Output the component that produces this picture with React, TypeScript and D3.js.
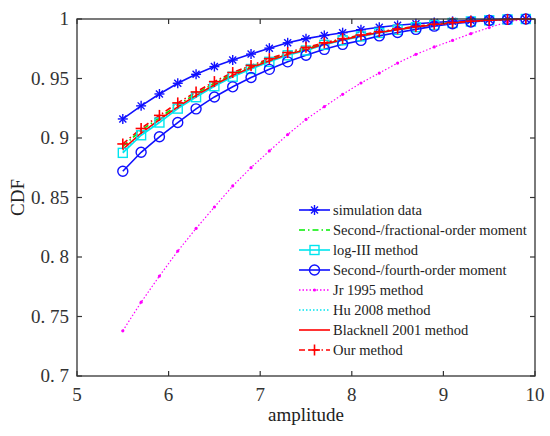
import React, { useEffect, useRef } from "react";
import * as d3 from "d3";

// amplitude values (5.5 .. 9.9 step 0.2)
const amplitude = [5.5, 5.7, 5.9, 6.1, 6.3, 6.5, 6.7, 6.9, 7.1, 7.3, 7.5, 7.7, 7.9, 8.1, 8.3, 8.5, 8.7, 8.9, 9.1, 9.3, 9.5, 9.7, 9.9];

const simulation = [0.916, 0.927, 0.937, 0.946, 0.9535, 0.96, 0.9655, 0.9705, 0.9755, 0.98, 0.9835, 0.9862, 0.9885, 0.991, 0.993, 0.9947, 0.996, 0.997, 0.998, 0.9988, 0.9995, 0.9999, 1.0];
const secondFractional = [0.893, 0.9064, 0.917, 0.9278, 0.9372, 0.9461, 0.9539, 0.9601, 0.9659, 0.9711, 0.9749, 0.9795, 0.9831, 0.9863, 0.989, 0.9915, 0.9936, 0.9955, 0.9969, 0.9981, 0.999, 0.9996, 1.0];
const logIII = [0.8875, 0.9023, 0.913, 0.9247, 0.9343, 0.9435, 0.9515, 0.958, 0.964, 0.9695, 0.9735, 0.9783, 0.9821, 0.9854, 0.9883, 0.9909, 0.9931, 0.995, 0.9966, 0.9979, 0.9989, 0.9996, 1.0];
const secondFourth = [0.872, 0.888, 0.901, 0.913, 0.9245, 0.9345, 0.943, 0.9508, 0.9577, 0.964, 0.9695, 0.9745, 0.9787, 0.982, 0.9858, 0.9886, 0.9913, 0.994, 0.996, 0.9975, 0.9988, 0.9997, 1.0];
const jr1995 = [0.738, 0.762, 0.784, 0.805, 0.824, 0.842, 0.8597, 0.8751, 0.8891, 0.9029, 0.9156, 0.9263, 0.9367, 0.9462, 0.9546, 0.963, 0.9703, 0.9765, 0.982, 0.9877, 0.9928, 0.9975, 1.0];
const hu2008 = [0.8885, 0.903, 0.914, 0.9253, 0.935, 0.944, 0.952, 0.9585, 0.9645, 0.9699, 0.9738, 0.9786, 0.9823, 0.9856, 0.9884, 0.991, 0.9932, 0.9951, 0.9966, 0.998, 0.9989, 0.9996, 1.0];
const blacknell2001 = [0.8905, 0.9042, 0.9155, 0.9262, 0.9358, 0.9448, 0.9527, 0.9591, 0.965, 0.9703, 0.9742, 0.9789, 0.9826, 0.9858, 0.9886, 0.9911, 0.9933, 0.9952, 0.9967, 0.998, 0.9989, 0.9996, 1.0];
const ourMethod = [0.895, 0.908, 0.919, 0.9295, 0.9387, 0.9474, 0.955, 0.961, 0.9667, 0.9718, 0.9762, 0.98, 0.9835, 0.9866, 0.9893, 0.9917, 0.9938, 0.9956, 0.997, 0.9982, 0.999, 0.9996, 1.0];

const xTicks = [5, 6, 7, 8, 9, 10];
const yTicks = [0.7, 0.75, 0.8, 0.85, 0.9, 0.95, 1];

const series = [
  { name: "simulation data", values: simulation, color: "#1010ff", dash: null, marker: "star" },
  { name: "Second-/fractional-order moment", values: secondFractional, color: "#00ee00", dash: "6,3,1.5,3", marker: null },
  { name: "log-III method", values: logIII, color: "#00e5ee", dash: null, marker: "square" },
  { name: "Second-/fourth-order moment", values: secondFourth, color: "#1010ff", dash: null, marker: "circle" },
  { name: "Jr 1995 method", values: jr1995, color: "#ff00ff", dash: "1.5,2", marker: "dot" },
  { name: "Hu 2008 method", values: hu2008, color: "#00e5ee", dash: "1.5,2", marker: null },
  { name: "Blacknell 2001 method", values: blacknell2001, color: "#ff0000", dash: null, marker: null },
  { name: "Our method", values: ourMethod, color: "#ff0000", dash: "6,3,1.5,3", marker: "plus" },
];

const width = 550;
const height = 436;
const margin = { left: 77, right: 15, top: 19, bottom: 60 };

const fmtY = (v) => (v === 1 ? "1" : "0. " + String(Math.round(v * 100) / 100).slice(2));

function drawMarker(g, type, x, y, color) {
  if (type === "star") {
    const r = 5;
    const segs = [[-r, 0, r, 0], [0, -r, 0, r], [-r * 0.7, -r * 0.7, r * 0.7, r * 0.7], [-r * 0.7, r * 0.7, r * 0.7, -r * 0.7]];
    segs.forEach((s) => {
      g.append("line").attr("x1", x + s[0]).attr("y1", y + s[1]).attr("x2", x + s[2]).attr("y2", y + s[3])
        .attr("stroke", color).attr("stroke-width", 1.4);
    });
  } else if (type === "plus") {
    const r = 5.5;
    g.append("line").attr("x1", x - r).attr("y1", y).attr("x2", x + r).attr("y2", y).attr("stroke", color).attr("stroke-width", 1.6);
    g.append("line").attr("x1", x).attr("y1", y - r).attr("x2", x).attr("y2", y + r).attr("stroke", color).attr("stroke-width", 1.6);
  } else if (type === "circle") {
    g.append("circle").attr("cx", x).attr("cy", y).attr("r", 5).attr("fill", "none").attr("stroke", color).attr("stroke-width", 1.4);
  } else if (type === "square") {
    g.append("rect").attr("x", x - 4.5).attr("y", y - 4.5).attr("width", 9).attr("height", 9)
      .attr("fill", "none").attr("stroke", color).attr("stroke-width", 1.4);
  } else if (type === "dot") {
    g.append("circle").attr("cx", x).attr("cy", y).attr("r", 1.6).attr("fill", color);
  }
}

const App = () => {
  const svgRef = useRef();

  useEffect(() => {
    const svg = d3.select(svgRef.current);
    svg.selectAll("*").remove();

    const x = d3.scaleLinear().domain([5, 10]).range([margin.left, width - margin.right]);
    const y = d3.scaleLinear().domain([0.7, 1]).range([height - margin.bottom, margin.top]);
    const x0 = margin.left, x1 = width - margin.right, y0 = height - margin.bottom, y1 = margin.top;

    svg.append("rect").attr("width", width).attr("height", height).attr("fill", "#fff");

    const font = "Liberation Serif";
    const axisColor = "#333";

    // plot lines
    const plot = svg.append("g");
    series.forEach((s) => {
      const line = d3.line().x((d, i) => x(amplitude[i])).y((d) => y(d));
      plot.append("path")
        .datum(s.values)
        .attr("d", line)
        .attr("fill", "none")
        .attr("stroke", s.color)
        .attr("stroke-width", s.dash && s.marker === "dot" ? 1.2 : 1.6)
        .attr("stroke-dasharray", s.dash);
    });
    // markers on top
    series.forEach((s) => {
      if (!s.marker) return;
      s.values.forEach((v, i) => drawMarker(plot, s.marker, x(amplitude[i]), y(v), s.color));
    });

    // box + ticks
    const ax = svg.append("g").style("font-family", font);
    ax.append("rect").attr("x", x0).attr("y", y1).attr("width", x1 - x0).attr("height", y0 - y1)
      .attr("fill", "none").attr("stroke", axisColor).attr("stroke-width", 1.3);
    xTicks.forEach((t) => {
      ax.append("line").attr("x1", x(t)).attr("x2", x(t)).attr("y1", y0).attr("y2", y0 - 5).attr("stroke", axisColor).attr("stroke-width", 1.2);
      ax.append("line").attr("x1", x(t)).attr("x2", x(t)).attr("y1", y1).attr("y2", y1 + 5).attr("stroke", axisColor).attr("stroke-width", 1.2);
      ax.append("text").attr("x", x(t)).attr("y", y0 + 25).attr("text-anchor", "middle")
        .attr("font-size", 19).attr("fill", "#333").text(String(t));
    });
    yTicks.forEach((t) => {
      ax.append("line").attr("x1", x0).attr("x2", x0 + 5).attr("y1", y(t)).attr("y2", y(t)).attr("stroke", axisColor).attr("stroke-width", 1.2);
      ax.append("line").attr("x1", x1).attr("x2", x1 - 5).attr("y1", y(t)).attr("y2", y(t)).attr("stroke", axisColor).attr("stroke-width", 1.2);
      ax.append("text").attr("x", x0 - 8).attr("y", y(t) + 6).attr("text-anchor", "end")
        .attr("font-size", 19).attr("fill", "#333").text(fmtY(t));
    });

    ax.append("text").attr("x", (x0 + x1) / 2).attr("y", y0 + 45).attr("text-anchor", "middle")
      .attr("font-size", 19).attr("fill", "#222").text("amplitude");
    ax.append("text").attr("transform", `translate(24,${(y0 + y1) / 2}) rotate(-90)`).attr("text-anchor", "middle")
      .attr("font-size", 19).attr("fill", "#222").text("CDF");

    // legend
    const lg = svg.append("g").style("font-family", font);
    const lx = 299, ly = 210, rowH = 20;
    series.forEach((s, i) => {
      const yy = ly + i * rowH;
      lg.append("line").attr("x1", lx).attr("x2", lx + 31).attr("y1", yy).attr("y2", yy)
        .attr("stroke", s.color).attr("stroke-width", 1.6).attr("stroke-dasharray", s.dash);
      if (s.marker) drawMarker(lg, s.marker, lx + 15.5, yy, s.color);
      lg.append("text").attr("x", lx + 34).attr("y", yy + 5)
        .attr("font-size", 14.5).attr("fill", "#222").text(s.name);
    });
  }, []);

  return (
    <svg ref={svgRef} width={width} height={height} style={{ position: "absolute", left: 0, top: 0 }}></svg>
  );
};

export default App;
